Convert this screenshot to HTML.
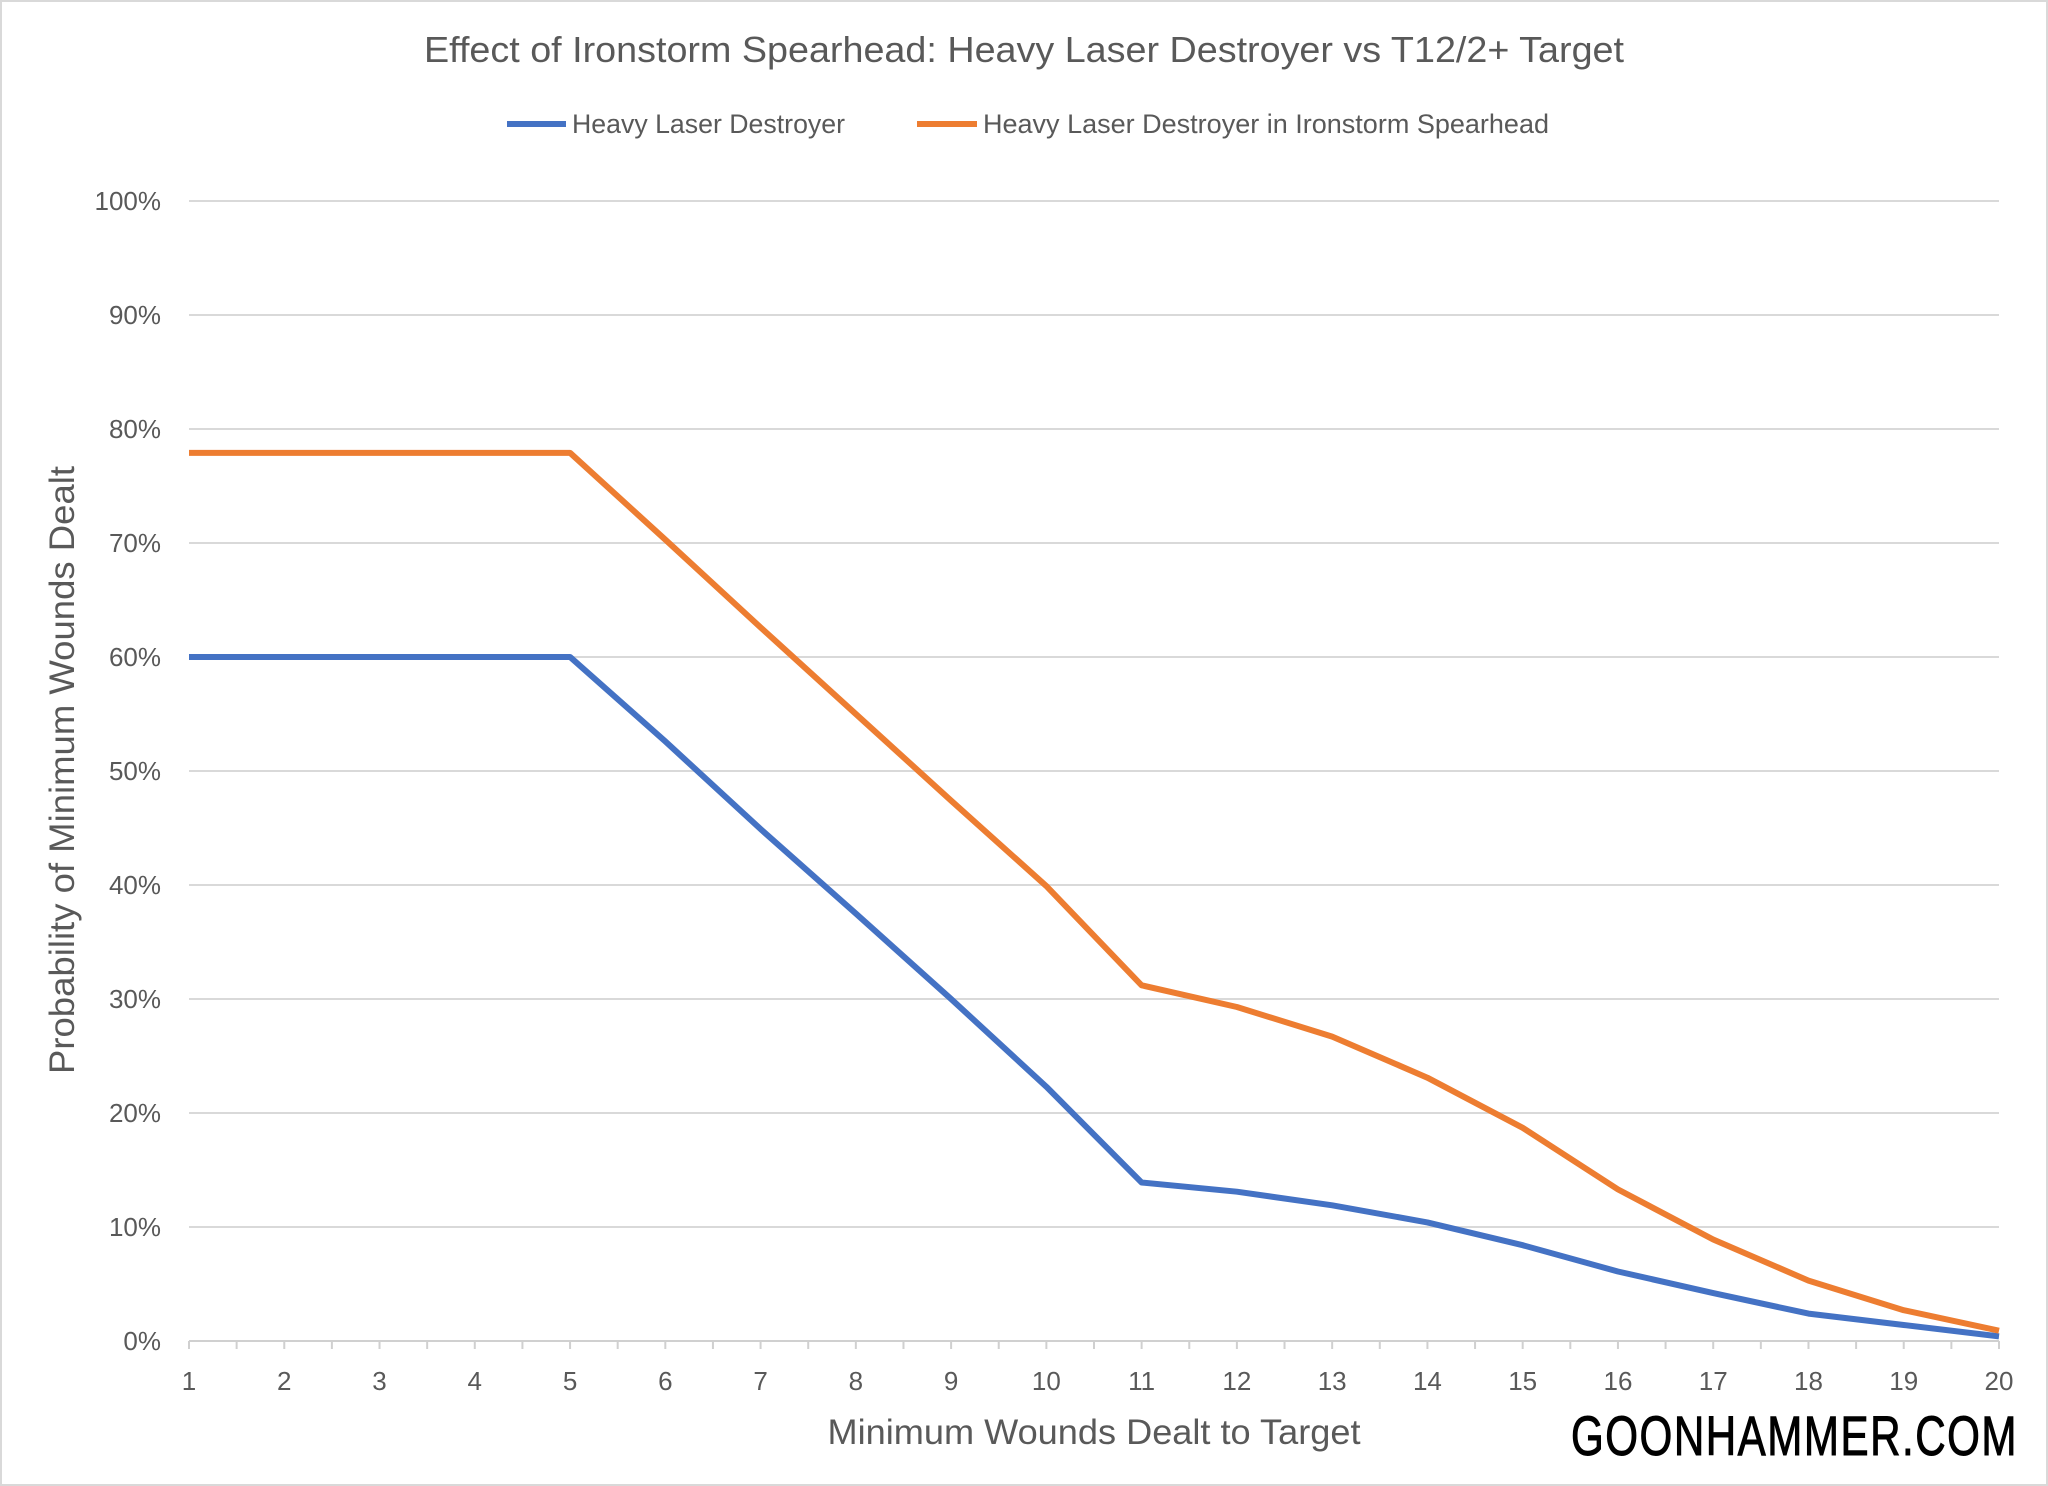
<!DOCTYPE html>
<html><head><meta charset="utf-8"><style>
html,body{margin:0;padding:0;background:#fff;}
svg{display:block;font-family:"Liberation Sans",sans-serif;}
</style></head><body>
<svg id="chart" width="2048" height="1486" viewBox="0 0 2048 1486" xmlns="http://www.w3.org/2000/svg">
<rect x="1" y="1" width="2046" height="1484" fill="#fff" stroke="#d9d9d9" stroke-width="2"/>
<text x="1024" y="62" text-anchor="middle" font-size="36" fill="#595959" textLength="1200" lengthAdjust="spacingAndGlyphs">Effect of Ironstorm Spearhead: Heavy Laser Destroyer vs T12/2+ Target</text>
<g>
<g><line x1="507" y1="124" x2="566" y2="124" stroke="#4472c4" stroke-width="6"/><text x="572" y="133" font-size="27" fill="#595959" textLength="273" lengthAdjust="spacingAndGlyphs">Heavy Laser Destroyer</text></g>
<g><line x1="917" y1="124" x2="977" y2="124" stroke="#ed7d31" stroke-width="6"/><text x="983" y="133" font-size="27" fill="#595959" textLength="566" lengthAdjust="spacingAndGlyphs">Heavy Laser Destroyer in Ironstorm Spearhead</text></g>
</g>
<g id="grid"></g>
<g id="yticks"></g>
<g id="xticks"></g>
<g id="series"></g>
<text transform="translate(74,770) rotate(-90)" text-anchor="middle" font-size="35" fill="#595959" textLength="608" lengthAdjust="spacingAndGlyphs">Probability of Minimum Wounds Dealt</text>
<text x="1094" y="1444" text-anchor="middle" font-size="35" fill="#595959" textLength="533" lengthAdjust="spacingAndGlyphs">Minimum Wounds Dealt to Target</text>
<text x="1571" y="1455" font-family="'Liberation Sans Narrow','Liberation Sans',sans-serif" font-size="56" fill="#000" stroke="#000" stroke-width="1" textLength="447" lengthAdjust="spacingAndGlyphs" letter-spacing="2">GOONHAMMER.COM</text>
</svg>
<script>
const categories = [1,2,3,4,5,6,7,8,9,10,11,12,13,14,15,16,17,18,19,20];
const baseValues = [60,60,60,60,60,52.6,44.9,37.5,30,22.3,13.9,13.1,11.9,10.4,8.4,6.1,4.2,2.4,1.4,0.4];
const ironstormValues = [77.9,77.9,77.9,77.9,77.9,70.3,62.6,55,47.4,39.9,31.2,29.3,26.7,23.1,18.7,13.3,8.9,5.3,2.7,0.9];
const yTickValues = [0,10,20,30,40,50,60,70,80,90,100];

const NS = "http://www.w3.org/2000/svg";
const L = 189, R = 1999, T = 201, B = 1341;
const n = categories.length;
function xPos(i){ return L + (R - L) * i / (n - 1); }
function yPos(v){ return B - (B - T) * v / 100; }
function mk(tag, attrs, parent){ const e = document.createElementNS(NS, tag); for (const k in attrs) e.setAttribute(k, attrs[k]); parent.appendChild(e); return e; }

const grid = document.getElementById('grid');
const yt = document.getElementById('yticks');
yTickValues.forEach(v => {
  const y = yPos(v);
  const g = mk('line', {x1: L, x2: R, y1: y, y2: y, stroke: v === 0 ? '#d0d0d0' : '#d9d9d9', 'stroke-width': 2}, grid);
  
  
  const t = mk('text', {x: 161, y: y + 9, 'text-anchor': 'end', 'font-size': 26, fill: '#595959'}, yt);
  t.textContent = v + '%';
  
  
});

const xt = document.getElementById('xticks');
for (let k = 0; k <= (n - 1) * 2; k++) {
  const x = L + (R - L) * k / ((n - 1) * 2);
  const tk = mk('line', {x1: x, x2: x, y1: B, y2: B + 8, stroke: '#d0d0d0', 'stroke-width': 2}, xt);
  
  
}
categories.forEach((c, i) => {
  const t = mk('text', {x: xPos(i), y: 1390, 'text-anchor': 'middle', 'font-size': 26, fill: '#595959'}, xt);
  t.textContent = c;
  
  
});

const series = document.getElementById('series');
function drawLine(vals, color, name){
  const pts = vals.map((v, i) => xPos(i).toFixed(1) + ',' + yPos(v).toFixed(1)).join(' ');
  const p = mk('polyline', {points: pts, fill: 'none', stroke: color, 'stroke-width': 6, 'stroke-linejoin': 'round'}, series);
  
  
}
drawLine(baseValues, '#4472c4', 'line-heavy-laser-destroyer');
drawLine(ironstormValues, '#ed7d31', 'line-ironstorm-spearhead');
</script>
</body></html>
